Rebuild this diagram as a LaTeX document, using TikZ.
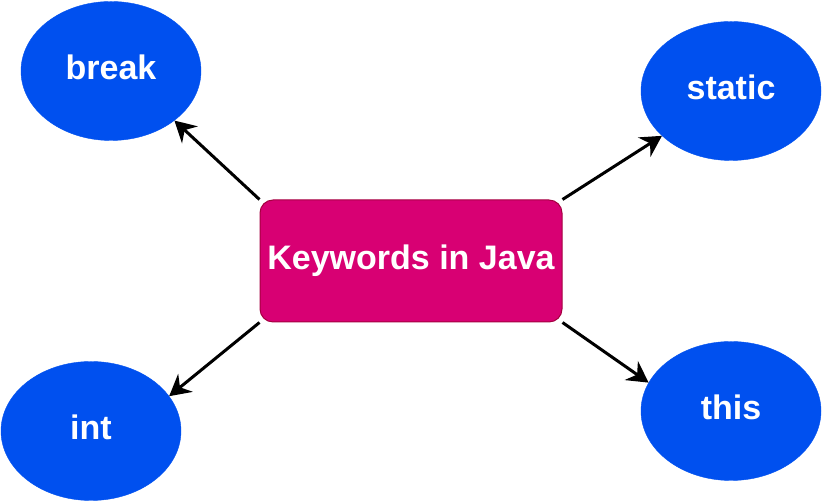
\documentclass[tikz,border=0pt]{standalone}
\usepackage{fontspec}
\setmainfont{Liberation Sans}
\usepackage{xcolor}
\usepackage{tikz}
\usetikzlibrary{shapes.geometric,arrows.meta}
\definecolor{kwmagenta}{HTML}{D80073}
\definecolor{kwborder}{HTML}{A50040}
\definecolor{kwblue}{HTML}{0050EF}

\begin{document}
\begin{tikzpicture}[x=1pt, y=1pt, rootbox/.style={rectangle, draw=kwborder, line width=1pt, fill=kwmagenta, rounded corners=13pt, minimum width=302pt, minimum height=122pt, text=white, font=\fontsize{34}{40}\selectfont\bfseries, text height=24.8pt, text depth=7.1pt}, keynode/.style={ellipse, draw=kwblue, fill=kwblue, inner sep=0pt, minimum width=180pt, minimum height=139pt, text=white, font=\fontsize{34}{40}\selectfont\bfseries, text height=24.8pt, text depth=7.1pt}, keyarrow/.style={line width=3pt, -{Stealth[length=21pt, width=23pt, inset=7pt]}}]
    \useasboundingbox (0,0) rectangle (822,502);
    \node[rootbox] (kw) at (411,241) {Keywords in Java};
    \node[keynode] (brk) at (111,431) {break};
    \node[keynode] (stat) at (731,411) {static};
    \node[keynode] (intk) at (91,71) {int};
    \node[keynode] (thisk) at (731,91) {this};
    \draw[keyarrow] (kw.north west) -- (brk.-38);
    \draw[keyarrow] (kw.north east) -- (stat.213);
    \draw[keyarrow] (kw.south west) -- (intk.24);
    \draw[keyarrow] (kw.south east) -- (thisk.161);
\end{tikzpicture}
\end{document}
